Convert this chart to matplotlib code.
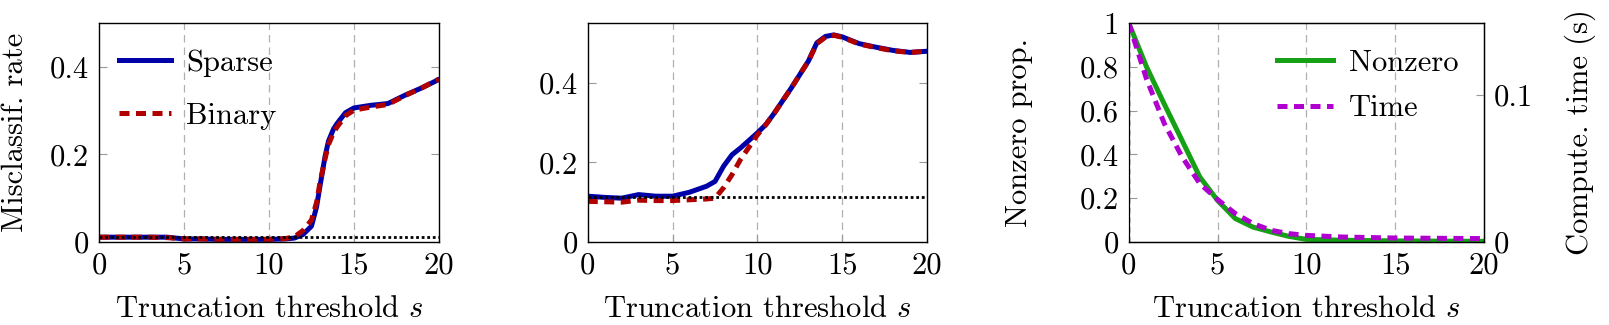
import matplotlib
matplotlib.use("Agg")
import matplotlib.pyplot as plt

# Данные
s_mis = [0, 1, 2, 3, 4, 5, 6, 7, 8, 9, 10, 11, 11.5, 12, 12.5, 12.8, 13, 13.3,
         13.5, 13.8, 14, 14.5, 15, 16, 17, 18, 19, 20]
sparse_mis = [0.011, 0.011, 0.011, 0.011, 0.011, 0.007, 0.007, 0.006, 0.006, 0.006,
              0.006, 0.007, 0.009, 0.017, 0.036, 0.08, 0.127, 0.195,
              0.23, 0.258, 0.27, 0.295, 0.306, 0.312, 0.316, 0.335, 0.352, 0.371]
binary_mis = [0.011, 0.011, 0.011, 0.011, 0.010, 0.007, 0.007, 0.006, 0.006, 0.006,
              0.006, 0.008, 0.012, 0.026, 0.05, 0.09, 0.135, 0.19,
              0.222, 0.25, 0.262, 0.288, 0.301, 0.308, 0.314, 0.334, 0.352, 0.372]
base_mis = 0.0105

s_mis2 = [0, 1, 2, 3, 4, 5, 6, 7, 7.5, 8, 8.5, 9, 10, 10.5, 11, 12, 13, 13.5,
          14, 14.5, 15, 16, 17, 18, 19, 20]
sparse_mis2 = [0.115, 0.112, 0.11, 0.119, 0.115, 0.115, 0.125, 0.14, 0.152, 0.19,
               0.219, 0.236, 0.274, 0.295, 0.324, 0.387, 0.454, 0.5,
               0.516, 0.52, 0.515, 0.498, 0.489, 0.481, 0.476, 0.479]
binary_mis2 = [0.102, 0.101, 0.1, 0.105, 0.104, 0.104, 0.106, 0.108, 0.11, 0.136,
               0.169, 0.207, 0.269, 0.295, 0.324, 0.387, 0.454, 0.498,
               0.514, 0.519, 0.514, 0.497, 0.488, 0.48, 0.476, 0.479]
base_mis2 = 0.113

s_nz = [0, 1, 2, 3, 4, 5, 6, 7, 8, 9, 10, 12, 15, 20]
nonzero = [1.0, 0.80, 0.63, 0.464, 0.297, 0.19, 0.107, 0.068, 0.046, 0.026,
           0.012, 0.008, 0.005, 0.003]
comp_time = [0.149, 0.111, 0.0807, 0.058, 0.0398, 0.0289, 0.0193, 0.0125,
             0.008, 0.0057, 0.0045, 0.0034, 0.0027, 0.0023]

x_ticks = [0, 5, 10, 15, 20]
y_ticks_1 = [0, 0.2, 0.4]
y_labels_1 = ["0", "0.2", "0.4"]
y_ticks_3 = [0, 0.2, 0.4, 0.6, 0.8, 1]
y_labels_3 = ["0", "0.2", "0.4", "0.6", "0.8", "1"]
y_ticks_time = [0, 0.1]
y_labels_time = ["0", "0.1"]

plt.rcParams["font.family"] = ["cmr10", "DejaVu Serif"]
plt.rcParams["mathtext.fontset"] = "cm"
plt.rcParams["axes.formatter.use_mathtext"] = True
plt.rcParams["font.size"] = 22

BLUE = "#0000A8"
RED = "#B00000"
GREEN = "#16A016"
VIOLET = "#B000D0"
LW = 3.6
DASH = (2.0, 1.3)
DOT = (0, (1, 1))


def setup_axes(ax, yticks, ylabels):
    # Оформление в стиле pgfplots
    ax.set_xlim(0, 20)
    ax.set_xticks(x_ticks)
    ax.set_xticklabels([str(t) for t in x_ticks])
    ax.set_yticks(yticks)
    ax.set_yticklabels(ylabels)
    ax.tick_params(direction="in", length=6, width=0.8, color="#999999",
                   right=True, top=False, pad=7)
    for v in [5, 10, 15]:
        ax.axvline(v, color="#b0b0b0", lw=0.9, ls=(0, (6, 4)), zorder=0)
    for sp in ax.spines.values():
        sp.set_linewidth(1.0)
    ax.set_xlabel("Truncation threshold $s$", labelpad=12)


fig = plt.figure(figsize=(16.09, 3.25), dpi=100)

# Панель 1
ax1 = fig.add_axes([0.0615, 0.2554, 0.2113, 0.674])
ax1.plot(s_mis, sparse_mis, color=BLUE, lw=LW, label="Sparse")
ax1.plot(s_mis, binary_mis, color=RED, lw=LW, dashes=DASH, label="Binary")
ax1.axhline(base_mis, color="black", lw=2.0, ls=DOT)
ax1.set_ylim(0, 0.5)
setup_axes(ax1, y_ticks_1, y_labels_1)
ax1.set_ylabel("Misclassif. rate", labelpad=15)
ax1.legend(loc="upper left", bbox_to_anchor=(0.058, 0.881), frameon=False,
           borderpad=0, borderaxespad=0, handlelength=1.7, handletextpad=0.5,
           labelspacing=0.84)

# Панель 2
ax2 = fig.add_axes([0.3653, 0.2554, 0.2109, 0.674])
ax2.plot(s_mis2, sparse_mis2, color=BLUE, lw=LW)
ax2.plot(s_mis2, binary_mis2, color=RED, lw=LW, dashes=DASH)
ax2.axhline(base_mis2, color="black", lw=2.0, ls=DOT)
ax2.set_ylim(0, 0.55)
setup_axes(ax2, y_ticks_1, y_labels_1)

# Панель 3
ax3 = fig.add_axes([0.7015, 0.2554, 0.2208, 0.674])
ax3.plot(s_nz, nonzero, color=GREEN, lw=LW, label="Nonzero")
ax3.set_ylim(0, 1)
setup_axes(ax3, y_ticks_3, y_labels_3)
ax3.tick_params(right=False)
ax3.axvline(0, color="black", lw=1.0, ls=(0, (4, 3)), zorder=5)
ax3.spines["left"].set_color("#bbbbbb")
ax3.set_ylabel("Nonzero prop.", labelpad=34)

ax4 = ax3.twinx()
ax4.plot(s_nz, comp_time, color=VIOLET, lw=LW, dashes=DASH, label="Time")
ax4.set_ylim(0, 0.149)
ax4.set_yticks(y_ticks_time)
ax4.set_yticklabels(y_labels_time)
ax4.tick_params(direction="in", length=6, width=0.8, color="#999999", pad=7)
ax4.set_ylabel("Compute. time (s)", labelpad=23)

h3, l3 = ax3.get_legend_handles_labels()
h4, l4 = ax4.get_legend_handles_labels()
ax4.legend(h3 + h4, l3 + l4, loc="upper left", bbox_to_anchor=(0.417, 0.88),
           frameon=False, borderpad=0, borderaxespad=0, handlelength=1.85,
           handletextpad=0.5, labelspacing=0.6)

fig.savefig("out.png", dpi=100)
